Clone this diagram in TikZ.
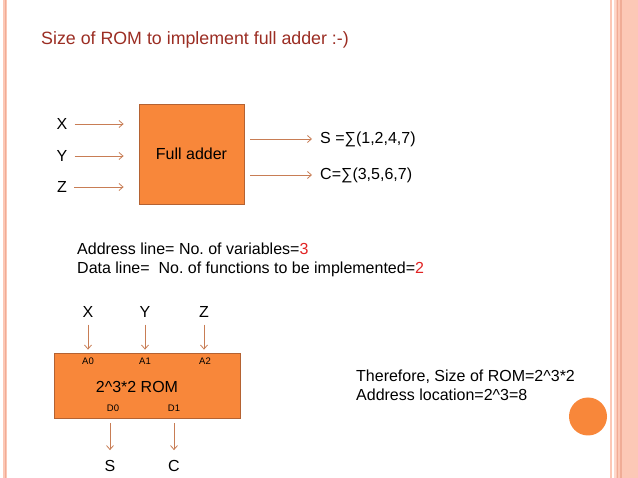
\documentclass[tikz,border=0pt]{standalone}
\usepackage{fontspec}
\setmainfont{Liberation Sans}
\usepackage{xcolor}
\usetikzlibrary{arrows.meta, positioning}
\definecolor{titlered}{RGB}{155, 45, 35}
\definecolor{adderorange}{RGB}{248, 135, 58}
\definecolor{borderbrown}{RGB}{180, 98, 50}
\definecolor{arrowbrown}{RGB}{200, 125, 85}
\definecolor{stripepink}{RGB}{252, 200, 182}
\definecolor{stripedark}{RGB}{240, 172, 150}
\definecolor{numred}{RGB}{225, 35, 35}
\frenchspacing

\begin{document}
\begin{tikzpicture}[
    x=1pt, y=-1pt,
    block/.style={draw=borderbrown, fill=adderorange, line width=0.8pt,
                  inner sep=0pt, font=\fontsize{16}{19}\selectfont},
    body/.style={inner sep=0pt, align=left, font=\fontsize{16}{19.5}\selectfont},
    pinlabel/.style={inner sep=0pt, font=\fontsize{9.5}{11}\selectfont},
    link/.style={draw=arrowbrown, line width=0.8pt,
                 -{Straight Barb[length=4pt, width=7pt]}}
]
    \useasboundingbox (0,0) rectangle (638,478);

    % slide borders
    \fill[stripepink] (3,0) rectangle (7,478);
    \draw[stripedark, line width=1pt] (5,0) -- (5,478);
    \fill[stripepink] (610,0) rectangle (612,478);
    \fill[stripepink!70] (614,0) rectangle (615.5,478);
    \fill[stripepink] (615.5,0) rectangle (638,478);
    \draw[stripedark, line width=1.2pt] (617.5,0) -- (617.5,478);
    \draw[stripedark, line width=1.5pt] (621,0) -- (621,478);

    \node[inner sep=0pt, anchor=west, text=titlered,
          font=\fontsize{17.8}{20}\selectfont] (title) at (41,40)
          {Size of ROM to implement full adder :-)};

    % full adder block
    \node[block, minimum width=105pt, minimum height=100pt] (adder) at (191.5,154) {Full adder};
    \node[body] (inx) at (62,124) {X};
    \node[body] (iny) at (62,156) {Y};
    \node[body] (inz) at (62,187) {Z};
    \foreach \n in {inx, iny, inz}
        \draw[link, shorten <=7pt, shorten >=15pt] (\n.east) -- (\n.east -| adder.west);

    \node[body, anchor=west] (sum) at (320,139) {S =∑(1,2,4,7)};
    \node[body, anchor=west] (carry) at (320,175) {C=∑(3,5,6,7)};
    \foreach \n in {sum, carry}
        \draw[link, shorten <=6pt, shorten >=8pt] (\n.west -| adder.east) -- (\n.west);

    \node[body, anchor=west] (lines) at (77,260)
        {Address line= No. of variables=\textcolor{numred}{3}\\
         Data line=\ \ No. of functions to be implemented=\textcolor{numred}{2}};

    % ROM block
    \node[block, minimum width=186pt, minimum height=65pt] (rom) at (147,385.5) {};
    \node[inner sep=0pt, font=\fontsize{16}{19}\selectfont] (romname) at (137,387) {2\^{}3*2 ROM};
    \node[pinlabel] (a0) at (88,361) {A0};
    \node[pinlabel] (a1) at (145,361) {A1};
    \node[pinlabel] (a2) at (205,361) {A2};
    \node[pinlabel] (d0) at (113,408) {D0};
    \node[pinlabel] (d1) at (174,408) {D1};

    \node[body] (romx) at (88,312) {X};
    \node[body] (romy) at (145,312) {Y};
    \node[body] (romz) at (204,312) {Z};
    \foreach \n in {romx, romy, romz}
        \draw[link, shorten <=7pt, shorten >=3pt] (\n.south) -- (\n.south |- rom.north);

    \node[body] (roms) at (110,466) {S};
    \node[body] (romc) at (174,466) {C};
    \foreach \n in {roms, romc}
        \draw[link, shorten <=5pt, shorten >=10pt] (\n.north |- rom.south) -- (\n.north);

    \node[body, anchor=west] (result) at (356,385.5)
        {Therefore, Size of ROM=2\^{}3*2\\Address location=2\^{}3=8};

    \fill[adderorange] (588,416.5) circle (19);
\end{tikzpicture}
\end{document}
